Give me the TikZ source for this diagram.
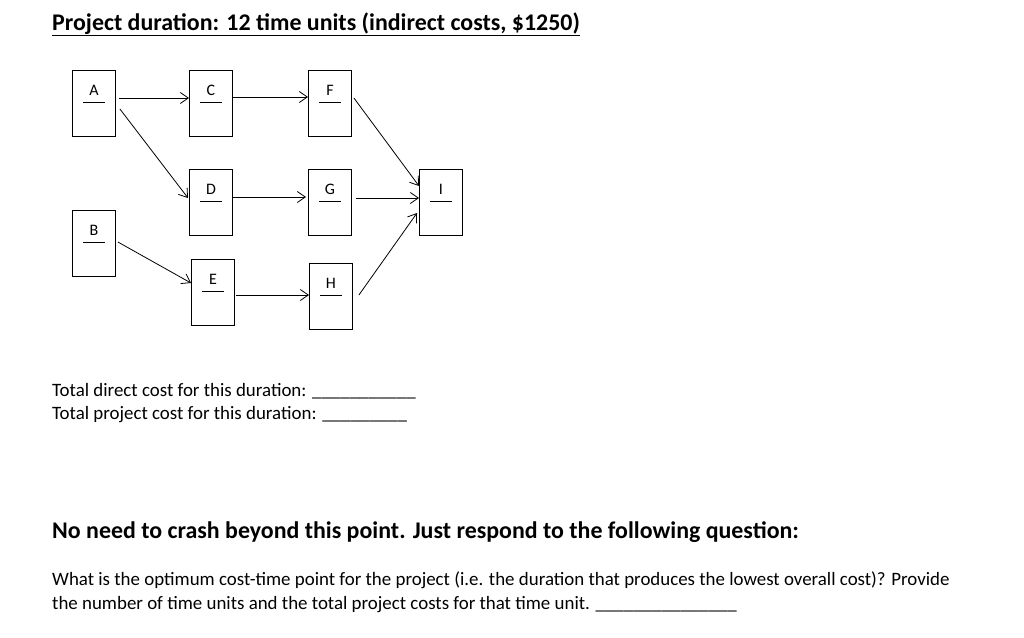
\documentclass[tikz,border=0pt]{standalone}
\usepackage{fontspec}
\setmainfont{Carlito}
\usetikzlibrary{calc,arrows.meta}
\begin{document}
\begin{tikzpicture}[x=1pt,y=-1pt,
  box/.style={draw,line width=0.9pt,minimum width=43pt,minimum height=66pt,inner sep=0pt,anchor=north west},
  arr/.style={-{Straight Barb[length=8pt,width=11pt]},line width=0.8pt},
  lbl/.style={font=\fontsize{16}{16}\selectfont,inner sep=0pt},
  txt/.style={anchor=base west,inner sep=0pt,font=\fontsize{18.9}{18.9}\selectfont},
  head/.style={anchor=base west,inner sep=0pt,font=\fontsize{23.9}{23.9}\selectfont\bfseries}]
\useasboundingbox (0,0) rectangle (1024,637);
\node[head] (title) at (52,30) {\underline{Project duration: 12 time units (indirect costs, \$1250)}};
\node[box] (A) at (72,70) {};
\node[box] (C) at (189,70) {};
\node[box] (F) at (308,70) {};
\node[box] (D) at (189,169) {};
\node[box] (G) at (308,169) {};
\node[box] (I) at (419,169) {};
\node[box] (B) at (72,210) {};
\node[box] (E) at (191,259) {};
\node[box] (H) at (309,263) {};
\foreach \n in {A,B,C,D,E,F,G,H,I}{
  \node[lbl] (l\n) at ($(\n.north)+(0,20)$) {\n};
  \draw[line width=0.8pt] ($(\n.north)+(-11,32)$) -- ++(22,0);
}
\draw[arr] ($(A.north east)+(3,28)$) -- ($(C.north west)+(0,28)$);
\draw[arr] ($(C.north east)+(0,27)$) -- ($(F.north west)+(0,27)$);
\draw[arr] ($(A.north east)+(4,39)$) -- ($(D.north west)+(-1,29)$);
\draw[arr] ($(D.north east)+(0,28)$) -- ($(G.north west)+(-2,28)$);
\draw[arr] ($(F.north east)+(2,28)$) -- ($(I.north west)+(0,17)$);
\draw[arr] ($(G.north east)+(4,29)$) -- ($(I.north west)+(0,29)$);
\draw[arr] ($(H.north east)+(6,32)$) -- ($(I.north west)+(-2,44)$);
\draw[arr] ($(B.north east)+(2,32)$) -- ($(E.north west)+(0,24)$);
\draw[arr] ($(E.north east)+(1,36)$) -- ($(H.north west)+(0,32)$);
\node[txt] (t1) at (52,396) {Total direct cost for this duration: \_\_\_\_\_\_\_\_\_\_\_};
\node[txt] (t2) at (52,419) {Total project cost for this duration: \_\_\_\_\_\_\_\_\_};
\node[head] (h2) at (52,538) {No need to crash beyond this point. Just respond to the following question:};
\node[txt] (q1) at (52,585) {What is the optimum cost-time point for the project (i.e. the duration that produces the lowest overall cost)? Provide};
\node[txt] (q2) at (52,609) {the number of time units and the total project costs for that time unit. \_\_\_\_\_\_\_\_\_\_\_\_\_\_\_};
\end{tikzpicture}
\end{document}
